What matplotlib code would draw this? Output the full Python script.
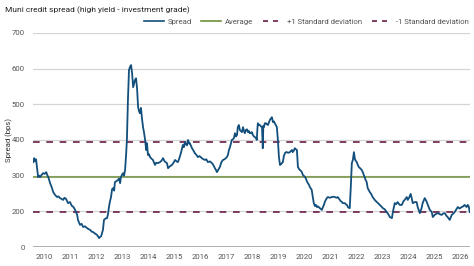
import matplotlib
matplotlib.use("Agg")
import matplotlib.pyplot as plt
from matplotlib.lines import Line2D

# ---- data (decimal years, spread in bps) ----
years = [
    2009.58, 2009.62, 2009.65, 2009.69, 2009.73, 2009.77, 2009.81, 2009.85, 2009.90, 2009.96,
    2010.02, 2010.08, 2010.12, 2010.16, 2010.23, 2010.29, 2010.35, 2010.42, 2010.50, 2010.55,
    2010.61, 2010.67, 2010.73, 2010.78, 2010.84, 2010.92, 2010.99, 2011.07, 2011.13, 2011.19,
    2011.27, 2011.30, 2011.38, 2011.44, 2011.50, 2011.57, 2011.65, 2011.71, 2011.77, 2011.83,
    2011.88, 2011.95, 2012.03, 2012.07, 2012.11, 2012.15, 2012.19, 2012.26, 2012.30, 2012.36,
    2012.42, 2012.46, 2012.49, 2012.53, 2012.57, 2012.61, 2012.65, 2012.69, 2012.72, 2012.78,
    2012.84, 2012.88, 2012.92, 2012.95, 2012.99, 2013.03, 2013.07, 2013.11, 2013.15, 2013.18,
    2013.22, 2013.26, 2013.30, 2013.34, 2013.38, 2013.42, 2013.46, 2013.49, 2013.53, 2013.57,
    2013.61, 2013.65, 2013.68, 2013.72, 2013.76, 2013.80, 2013.84, 2013.88, 2013.92, 2013.95,
    2013.99, 2014.03, 2014.07, 2014.12, 2014.18, 2014.26, 2014.30, 2014.37, 2014.45, 2014.51,
    2014.57, 2014.63, 2014.72, 2014.76, 2014.83, 2014.91, 2014.97, 2015.03, 2015.09, 2015.14,
    2015.20, 2015.26, 2015.33, 2015.37, 2015.41, 2015.45, 2015.49, 2015.53, 2015.57, 2015.60,
    2015.64, 2015.68, 2015.74, 2015.79, 2015.85, 2015.91, 2015.97, 2016.06, 2016.12, 2016.18,
    2016.23, 2016.29, 2016.37, 2016.45, 2016.50, 2016.56, 2016.60, 2016.64, 2016.70, 2016.75,
    2016.81, 2016.87, 2016.93, 2016.98, 2017.02, 2017.06, 2017.10, 2017.14, 2017.21, 2017.25,
    2017.29, 2017.33, 2017.37, 2017.41, 2017.44, 2017.48, 2017.52, 2017.56, 2017.60, 2017.64,
    2017.68, 2017.71, 2017.75, 2017.79, 2017.83, 2017.87, 2017.90, 2017.94, 2017.98, 2018.02,
    2018.06, 2018.10, 2018.14, 2018.17, 2018.19, 2018.21, 2018.25, 2018.29, 2018.33, 2018.37,
    2018.40, 2018.42, 2018.44, 2018.48, 2018.52, 2018.56, 2018.60, 2018.64, 2018.67, 2018.71,
    2018.75, 2018.79, 2018.83, 2018.86, 2018.90, 2018.94, 2018.98, 2019.02, 2019.06, 2019.10,
    2019.13, 2019.17, 2019.21, 2019.25, 2019.29, 2019.32, 2019.38, 2019.44, 2019.52, 2019.55,
    2019.59, 2019.63, 2019.67, 2019.71, 2019.75, 2019.82, 2019.86, 2019.90, 2019.94, 2020.00,
    2020.05, 2020.09, 2020.13, 2020.17, 2020.21, 2020.28, 2020.32, 2020.36, 2020.40, 2020.44,
    2020.48, 2020.51, 2020.55, 2020.59, 2020.67, 2020.71, 2020.75, 2020.78, 2020.82, 2020.86,
    2020.90, 2020.97, 2021.05, 2021.11, 2021.17, 2021.23, 2021.28, 2021.32, 2021.36, 2021.40,
    2021.44, 2021.47, 2021.55, 2021.59, 2021.63, 2021.67, 2021.70, 2021.74, 2021.78, 2021.82,
    2021.86, 2021.90, 2021.94, 2021.97, 2022.01, 2022.05, 2022.09, 2022.15, 2022.20, 2022.24,
    2022.28, 2022.34, 2022.39, 2022.43, 2022.51, 2022.57, 2022.62, 2022.70, 2022.78, 2022.84,
    2022.89, 2022.95, 2023.01, 2023.08, 2023.16, 2023.22, 2023.28, 2023.36, 2023.39, 2023.43,
    2023.47, 2023.52, 2023.58, 2023.66, 2023.74, 2023.80, 2023.85, 2023.93, 2023.97, 2024.03,
    2024.08, 2024.12, 2024.16, 2024.24, 2024.31, 2024.35, 2024.43, 2024.50, 2024.54, 2024.58,
    2024.62, 2024.66, 2024.70, 2024.74, 2024.81, 2024.89, 2024.93, 2025.00, 2025.06, 2025.12,
    2025.20, 2025.27, 2025.33, 2025.39, 2025.45, 2025.50, 2025.58, 2025.66, 2025.72, 2025.77,
    2025.83, 2025.89, 2025.96, 2026.04, 2026.10, 2026.15, 2026.23, 2026.27, 2026.31, 2026.35,
]
spread = [
    338, 349, 340, 346, 320, 296, 300, 296, 302, 307,
    305, 310, 302, 296, 279, 268, 254, 246, 240, 242,
    237, 235, 232, 238, 235, 223, 226, 215, 212, 204,
    190, 176, 162, 165, 156, 158, 153, 150, 148, 143,
    142, 138, 134, 130, 125, 128, 130, 148, 176, 180,
    181, 195, 212, 228, 240, 262, 265, 258, 282, 285,
    288, 292, 279, 296, 302, 307, 300, 316, 360, 400,
    512, 596, 605, 610, 587, 548, 560, 568, 573, 545,
    492, 480, 475, 490, 460, 436, 420, 400, 372, 391,
    358, 360, 352, 348, 344, 330, 336, 335, 338, 342,
    349, 340, 335, 321, 326, 330, 336, 344, 340, 338,
    350, 365, 386, 380, 394, 388, 385, 400, 390, 391,
    384, 377, 370, 363, 358, 352, 355, 349, 346, 344,
    346, 338, 340, 335, 330, 321, 316, 310, 318, 324,
    338, 344, 346, 349, 352, 358, 372, 380, 400, 402,
    405, 419, 410, 414, 436, 442, 428, 425, 422, 436,
    425, 419, 428, 430, 422, 425, 419, 420, 422, 414,
    410, 408, 405, 400, 428, 447, 442, 442, 438, 436,
    377, 440, 436, 447, 447, 444, 442, 450, 456, 460,
    464, 450, 452, 447, 442, 436, 400, 352, 330, 332,
    335, 338, 355, 363, 366, 366, 364, 366, 372, 366,
    370, 377, 374, 372, 324, 316, 314, 310, 302, 298,
    293, 285, 279, 275, 268, 260, 240, 223, 215, 218,
    212, 214, 212, 209, 204, 212, 218, 226, 232, 237,
    240, 238, 240, 241, 240, 238, 240, 236, 232, 228,
    226, 223, 223, 220, 218, 212, 210, 209, 268, 335,
    344, 366, 346, 342, 338, 330, 324, 320, 316, 310,
    302, 290, 282, 265, 254, 248, 240, 232, 226, 222,
    218, 214, 209, 206, 198, 192, 184, 181, 195, 210,
    223, 220, 226, 218, 218, 228, 232, 240, 232, 240,
    249, 237, 223, 226, 226, 212, 195, 209, 223, 230,
    237, 232, 226, 218, 205, 198, 184, 190, 193, 195,
    192, 190, 194, 195, 188, 184, 176, 190, 194, 198,
    205, 212, 208, 212, 214, 218, 212, 218, 214, 198,
]

average = 295
plus_1sd = 393
minus_1sd = 197

year_ticks = list(range(2010, 2027))
y_tick_values = [100, 200, 300, 400, 500, 600, 700]
y_tick_labels = ["0", "200", "300", "400", "500", "600", "700"]

# ---- styling ----
plt.rcParams['font.family'] = ['Roboto', 'DejaVu Sans']
fs = 5.6

blue = '#134f7c'
green = '#6f8f3a'
maroon = '#6b1e48'
text_col = '#555555'

fig = plt.figure(figsize=(4.74, 2.66), dpi=100)
ax = fig.add_axes([0.070, 0.0714, 0.9216, 0.8046])

ax.set_xlim(2009.58, 2026.36)
ax.set_ylim(100, 700)

for v in y_tick_values[1:]:
    ax.axhline(v, color='#d4d4d4', lw=0.9, zorder=0)
ax.axhline(100, color='#a8a8a8', lw=2.0, zorder=1)

ax.axhline(average, color=green, lw=1.1, zorder=2)
ax.axhline(plus_1sd, color=maroon, lw=1.2, ls=(0, (4, 4)), zorder=2)
ax.axhline(minus_1sd, color=maroon, lw=1.2, ls=(0, (4, 4)), zorder=2)

ax.plot(years, spread, color=blue, lw=1.3, zorder=3, solid_joinstyle='round')

for s in ax.spines.values():
    s.set_visible(False)
ax.set_xticks(year_ticks)
ax.set_xticklabels([str(y) for y in year_ticks])
ax.set_yticks(y_tick_values)
ax.set_yticklabels(y_tick_labels)
ax.tick_params(axis='both', length=0, labelsize=fs, labelcolor=text_col)
ax.tick_params(axis='x', pad=5)
ax.tick_params(axis='y', pad=6)

fig.text(0.019, 0.474, 'Spread (bps)', fontsize=fs, color='#333333',
         rotation=90, ha='center', va='center')

fig.text(0.010, 0.975, 'Muni credit spread (high yield - investment grade)',
         fontsize=fs + 0.4, color='#222222', ha='left', va='top')

handles = [
    Line2D([], [], color=blue, lw=1.2),
    Line2D([], [], color=green, lw=1.2),
    Line2D([], [], color=maroon, lw=1.2, ls=(0, (3, 3))),
    Line2D([], [], color=maroon, lw=1.2, ls=(0, (3, 3))),
]
labels = ['Spread', 'Average', '+1 Standard deviation', '-1 Standard deviation']
leg = fig.legend(handles, labels, loc='center right', bbox_to_anchor=(0.995, 0.918),
                 ncol=4, frameon=False, fontsize=fs, handlelength=2.6,
                 handletextpad=0.5, columnspacing=1.2, borderaxespad=0)
for t in leg.get_texts():
    t.set_color(text_col)

fig.savefig('out.png', dpi=100)
